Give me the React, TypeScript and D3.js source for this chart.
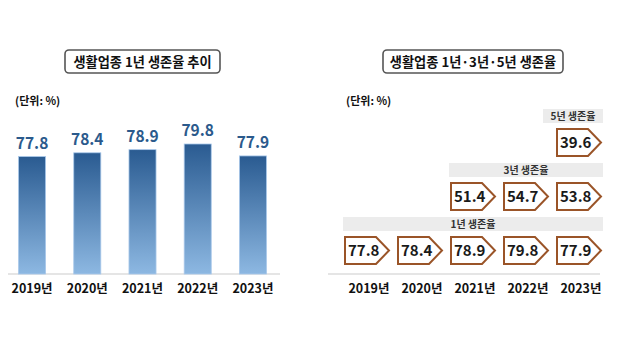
import * as d3 from "d3"

const years = ["2019년", "2020년", "2021년", "2022년", "2023년"]
const oneYear = [77.8, 78.4, 78.9, 79.8, 77.9]
const threeYear = [null, null, 51.4, 54.7, 53.8]
const fiveYear = [null, null, null, null, 39.6]
const rowNames = ["1년 생존율", "3년 생존율", "5년 생존율"]

const FONT = "'Noto Sans CJK KR', 'Noto Sans', sans-serif"
const BROWN = "#9a5428"

const W = 640
const H = 360
const baseY = 274

const TitleBox = ({ x0, x1, text }) => (
  <g>
    <rect x={x0} y={50} width={x1 - x0} height={23} rx={4} fill="#fff" stroke="#555" strokeWidth={1.6} />
    <text x={(x0 + x1) / 2} y={66.5} textAnchor="middle" fontSize={13.2} fontWeight={700} fill="#111">
      {text}
    </text>
  </g>
)

// arrow-tag shaped value box
const tagPath = (x, y, w, h, tip) =>
  `M${x},${y} L${x + w - tip},${y} L${x + w},${y + h / 2} L${x + w - tip},${y + h} L${x},${y + h} Z`

const App = () => {
  // left: bars
  const xL = d3.scaleBand().domain(years).range([5, 280]).paddingInner(0.51).paddingOuter(0.245)
  const yL = d3.scaleLinear().domain([59.1, 79.8]).range([baseY, 144])

  // right: tags
  const xR = d3.scalePoint().domain(years).range([367, 579])
  const yR = d3.scalePoint().domain(rowNames).range([237, 129])
  const rows = [oneYear, threeYear, fiveYear]
  const boxW = 44
  const boxH = 27

  return (
    <svg width={W} height={H} style={{ display: "block", margin: "-8px", fontFamily: FONT }}>
      <defs>
        <linearGradient id="barGrad" x1="0" y1="0" x2="0" y2="1">
          <stop offset="0%" stopColor="#2a5b91" />
          <stop offset="100%" stopColor="#8db8e2" />
        </linearGradient>
      </defs>
      <rect width={W} height={H} fill="#fff" />

      {/* left chart */}
      <TitleBox x0={65} x1={220} text="생활업종 1년 생존율 추이" />
      <text x={15} y={104.5} fontSize={11} fontWeight={700} fill="#111">(단위: %)</text>
      <line x1={5} x2={280} y1={baseY} y2={baseY} stroke="#dcdcdc" strokeWidth={1.5} />
      {oneYear.map((v, i) => (
        <g key={years[i]}>
          <rect
            x={xL(years[i])}
            y={yL(v)}
            width={xL.bandwidth()}
            height={baseY - yL(v)}
            fill="url(#barGrad)"
            stroke="#a9c8ea"
            strokeWidth={0.8}
          />
          <text
            x={xL(years[i]) + xL.bandwidth() / 2}
            y={yL(v) - 8}
            textAnchor="middle"
            fontSize={15.5}
            fontWeight={700}
            fill="#2b5a8c"
          >
            {v.toFixed(1)}
          </text>
          <text
            x={xL(years[i]) + xL.bandwidth() / 2}
            y={292.5}
            textAnchor="middle"
            fontSize={12.5}
            fontWeight={700}
            fill="#111"
          >
            {years[i]}
          </text>
        </g>
      ))}

      {/* right chart */}
      <TitleBox x0={383} x1={563} text="생활업종 1년·3년·5년 생존율" />
      <text x={346} y={104.5} fontSize={11} fontWeight={700} fill="#111">(단위: %)</text>
      <line x1={328} x2={600} y1={baseY} y2={baseY} stroke="#dcdcdc" strokeWidth={1.5} />
      {rows.map((vals, r) => {
        const idx = vals.map((v, i) => (v == null ? -1 : i)).filter((i) => i >= 0)
        const top = yR(rowNames[r])
        let bx0 = xR(years[idx[0]]) - 24
        const bx1 = xR(years[idx[idx.length - 1]]) + 24
        if (bx1 - bx0 < 60) bx0 = bx1 - 60
        return (
          <g key={rowNames[r]}>
            <rect x={bx0} y={top - 20} width={bx1 - bx0} height={14} fill="#ececec" />
            <text x={(bx0 + bx1) / 2} y={top - 9} textAnchor="middle" fontSize={10} fontWeight={700} fill="#333">
              {rowNames[r]}
            </text>
            {idx.map((i) => {
              const x = xR(years[i]) - boxW / 2
              return (
                <g key={years[i]}>
                  <path d={tagPath(x, top, boxW, boxH, 13)} fill="#fff" stroke={BROWN} strokeWidth={2} />
                  <text x={x + 3} y={top + boxH / 2 + 5.5} fontSize={15} fontWeight={700} fill="#1a1a1a">
                    {vals[i].toFixed(1)}
                  </text>
                </g>
              )
            })}
          </g>
        )
      })}
      {years.map((yr) => (
        <text key={yr} x={xR(yr) + 2} y={292.5} textAnchor="middle" fontSize={12.5} fontWeight={700} fill="#111">
          {yr}
        </text>
      ))}
    </svg>
  )
}

export default App
